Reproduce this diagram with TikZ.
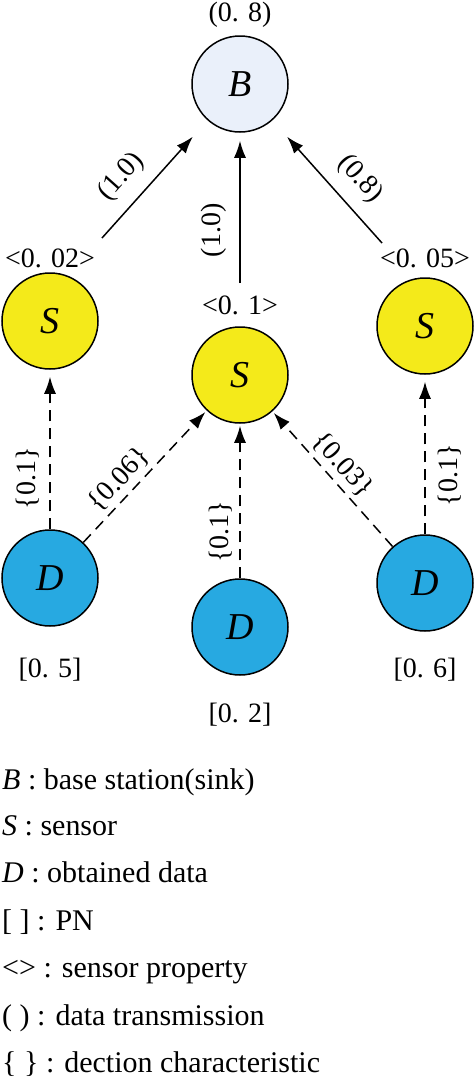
\documentclass[tikz,border=0pt]{standalone}
\usepackage{fontspec}
\setmainfont{Liberation Serif}
\usetikzlibrary{positioning,arrows.meta}

\definecolor{sinkfill}{HTML}{EAF0FA}
\definecolor{sensorfill}{HTML}{F4EA1A}
\definecolor{datafill}{HTML}{27A9E1}

\tikzset{
  station/.style={ % common look of a round node
    circle, draw, line width=1.5pt, minimum size=96pt,
    inner sep=0pt, text=black,
    font=\fontsize{38}{40}\selectfont\itshape
  },
  sinknode/.style={station, fill=sinkfill},     % base station
  sensornode/.style={station, fill=sensorfill}, % sensor
  datanode/.style={station, fill=datafill},     % obtained data
  prop/.style={  % value printed next to a node or an edge
    inner sep=0pt, font=\fontsize{28}{30}\selectfont
  },
  send/.style={line width=1.5pt, -{Latex[length=17pt,width=12pt]}},
  detect/.style={send, dash pattern=on 11pt off 7pt},
  legendline/.style={
    inner sep=0pt, anchor=base west, font=\fontsize{30}{32}\selectfont
  }
}

\begin{document}
\begin{tikzpicture}[x=1pt,y=-1pt]
    \useasboundingbox (0,0) rectangle (474,1085);

    \node[sinknode] (B) at (240,84) {B};
    \node[sensornode] (sl) at (50,321) {S};
    \node[sensornode] (sm) at (240,375) {S};
    \node[sensornode] (sr) at (425,326) {S};
    \node[datanode] (dl) at (50,578) {D};
    \node[datanode] (dm) at (240,627) {D};
    \node[datanode] (dr) at (425,583) {D};

    \node[prop] (b_label)[above=8pt of B]{(0. 8)};
    \node[prop] (sl_label)[above=4pt of sl]{<0. 02>};
    \node[prop] (sm_label)[above=11pt of sm]{<0. 1>};
    \node[prop] (sr_label)[above=9pt of sr]{<0. 05>};
    \node[prop] (dl_label)[below=31pt of dl]{[0. 5]};
    \node[prop] (dm_label)[below=27pt of dm]{[0. 2]};
    \node[prop] (dr_label)[below=26pt of dr]{[0. 6]};

    % transmission towards the sink starts just above the sensor values
    \coordinate (sl_out) at (102,238);
    \coordinate (sm_out) at (240,283);
    \coordinate (sr_out) at (382,243);

    \draw[send, shorten >=22pt] (sl_out) -- node[prop, sloped, above=13pt, pos=0.37]{(1.0)} (B);
    \draw[send, shorten >=8pt] (sm_out) -- node[prop, sloped, above=13pt, pos=0.35]{(1.0)} (B);
    \draw[send, shorten >=22pt] (sr_out) -- node[prop, sloped, above=13pt, pos=0.38]{(0.8)} (B);

    \draw[detect, shorten >=7pt] (dl) -- node[prop, sloped, above=10pt, pos=0.32]{\{0.1\}} (sl);
    \draw[detect, shorten >=2pt] (dl) -- node[prop, sloped, above=5pt, pos=0.39]{\{0.06\}} (sm);
    \draw[detect, shorten >=2pt] (dm) -- node[prop, sloped, above=7pt, pos=0.30]{\{0.1\}} (sm);
    \draw[detect, shorten >=2pt] (dr) -- node[prop, sloped, above=5pt, pos=0.52]{\{0.03\}} (sm);
    \draw[detect, shorten >=7pt] (dr) -- node[prop, sloped, below=12pt, pos=0.37]{\{0.1\}} (sr);

    \node[legendline] (leg_b) at (2,789) {\textit{B} : base station(sink)};
    \node[legendline] (leg_s) at (2,835) {\textit{S} : sensor};
    \node[legendline] (leg_d) at (2,882) {\textit{D} : obtained data};
    \node[legendline] (leg_pn) at (2,930) {[ ] : PN};
    \node[legendline] (leg_sp) at (2,977) {<> : sensor property};
    \node[legendline] (leg_dt) at (2,1025) {( ) : data transmission};
    \node[legendline] (leg_dc) at (2,1072) {\{ \} : dection characteristic};
\end{tikzpicture}
\end{document}
